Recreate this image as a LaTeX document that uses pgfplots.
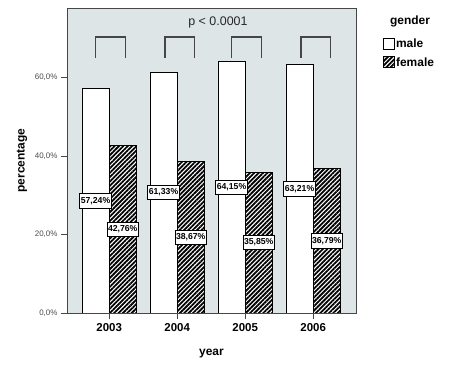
\documentclass[border=0pt]{standalone}
\usepackage{fontspec}
\setmainfont{Liberation Sans}
\usepackage{pgfplots}
\pgfplotsset{compat=1.18}
\usepackage{pgfplotstable}
\usetikzlibrary{patterns.meta}
\definecolor{bgc}{RGB}{221,229,231}
\definecolor{axc}{RGB}{70,70,70}

\pgfplotstableread{
x male female
0 57.24 42.76
1 61.33 38.67
2 64.15 35.85
3 63.21 36.79
}\data

\begin{document}
\begin{tikzpicture}
\useasboundingbox (-67bp,-66bp) rectangle (407bp,313bp);
\begin{axis}[
 at={(0,0)}, anchor=south west,
 scale only axis, width=289bp, height=305bp,
 xmin=-0.62, xmax=3.63, ymin=0, ymax=77.7,
 axis background/.style={fill=bgc},
 axis line style={draw=axc, line width=0.9bp},
 xtick={0,1,2,3}, xticklabels={2003,2004,2005,2006},
 ytick={0,20,40,60},
 yticklabel={\pgfmathprintnumber[fixed,fixed zerofill,precision=1,use comma,assume math mode=true]{\tick}\%},
 tick align=outside, xtick pos=bottom, ytick pos=left,
 major tick length=6bp,
 tick style={draw=axc, line width=0.9bp},
 xticklabel style={font=\bfseries\fontsize{11.5}{12}\selectfont, yshift=-1bp},
 yticklabel style={font=\fontsize{8}{9}\selectfont, text=black!70},
 xlabel={year}, ylabel={percentage},
 label style={font=\bfseries\fontsize{12}{14}\selectfont},
 xlabel style={at={(axis description cs:0.5,-0.1344)}, anchor=center},
 ylabel style={at={(axis description cs:-0.1557,0.5)}, anchor=center},
 legend style={at={(1,1)}, anchor=north west, xshift=27bp, yshift=-30bp,
   draw=none, fill=none, inner sep=0pt,
   font=\bfseries\fontsize{12}{14}\selectfont,
   row sep=6bp, nodes={inner sep=1bp}},
 legend cell align=left,
 legend image code/.code={\draw[#1] (0bp,-5.5bp) rectangle (11bp,5.5bp);},
]
\addplot[ybar, bar width=0.4, bar shift=-0.2, fill=white, draw=black, line width=0.9bp]
  table[x=x, y=male]{\data};
\addlegendentry{male}
\addplot[ybar, bar width=0.4, bar shift=0.2, fill=white, draw=black, line width=0.9bp,
  postaction={pattern={Lines[angle=45,distance=3.1bp,line width=1.8bp]}, pattern color=black}]
  table[x=x, y=female]{\data};
\addlegendentry{female}

\addplot[forget plot, only marks, mark=*, mark options={draw=none, fill=none},
  point meta=explicit,
  nodes near coords={\pgfmathprintnumber[fixed,fixed zerofill,precision=2,use comma,assume math mode=true]{\pgfplotspointmeta}\%},
  nodes near coords style={anchor=center, fill=white, draw=black, line width=0.7bp,
    font=\bfseries\fontsize{8.7}{9}\selectfont, inner xsep=1.2bp, inner ysep=3.5bp}]
  table[x expr=\thisrow{x}-0.2, y expr=\thisrow{male}/2, meta=male]{\data};
\addplot[forget plot, only marks, mark=*, mark options={draw=none, fill=none},
  point meta=explicit,
  nodes near coords={\pgfmathprintnumber[fixed,fixed zerofill,precision=2,use comma,assume math mode=true]{\pgfplotspointmeta}\%},
  nodes near coords style={anchor=center, fill=white, draw=black, line width=0.7bp,
    font=\bfseries\fontsize{8.7}{9}\selectfont, inner xsep=1.2bp, inner ysep=3.5bp}]
  table[x expr=\thisrow{x}+0.2, y expr=\thisrow{female}/2, meta=female]{\data};

\addplot[forget plot, draw=axc, line width=1.3bp, mark=none] coordinates {(-0.2,65) (-0.2,70.3) (0.24,70.3) (0.24,65)};
\addplot[forget plot, draw=axc, line width=1.3bp, mark=none] coordinates {(0.82,65) (0.82,70.3) (1.26,70.3) (1.26,65)};
\addplot[forget plot, draw=axc, line width=1.3bp, mark=none] coordinates {(1.8,65) (1.8,70.3) (2.24,70.3) (2.24,65)};
\addplot[forget plot, draw=axc, line width=1.3bp, mark=none] coordinates {(2.82,65) (2.82,70.3) (3.26,70.3) (3.26,65)};

\node[font=\fontsize{12.5}{14}\selectfont, text=black!85] at (axis cs:1.6,74.1) {p < 0.0001};
\end{axis}
\node[font=\bfseries\fontsize{12}{14}\selectfont] at (343bp,292bp) {gender};
\end{tikzpicture}
\end{document}
